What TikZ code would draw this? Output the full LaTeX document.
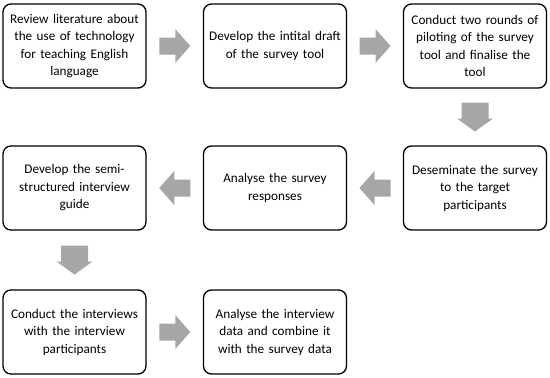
\documentclass[tikz,border=0pt]{standalone}
\usepackage{fontspec}
\setmainfont{Carlito}
\usetikzlibrary{calc}
\definecolor{arrowgray}{HTML}{A6A6A6}
\tikzset{
  stepbox/.style={draw=black, line width=1.3pt, rounded corners=8pt,
    minimum width=143pt, minimum height=84pt, inner sep=0pt,
    align=center, text width=135pt, font=\fontsize{13.2}{17.5}\selectfont},
  harrow/.pic={\fill[arrowgray] (-15.5,-8.5) -- (0.5,-8.5) -- (0.5,-17) -- (15.5,0) -- (0.5,17) -- (0.5,8.5) -- (-15.5,8.5) -- cycle;},
  varrow/.pic={\fill[arrowgray] (-13.5,-14.5) -- (-13.5,1.5) -- (-18,1.5) -- (0,14.5) -- (18,1.5) -- (13.5,1.5) -- (13.5,-14.5) -- cycle;}
}
\begin{document}
\begin{tikzpicture}[x=1pt,y=-1pt]
\useasboundingbox (0,0) rectangle (550,378);
\node[stepbox] (b1) at (74.5,46) {Review literature about\\the use of technology\\for teaching English\\language};
\node[stepbox] (b2) at (275,46) {Develop the intital draft\\of the survey tool};
\node[stepbox] (b3) at (475,46) {Conduct two rounds of\\piloting of the survey\\tool and finalise the\\tool};
\node[stepbox] (b4) at (475,188) {Deseminate the survey\\to the target\\participants};
\node[stepbox] (b5) at (275,188) {Analyse the survey\\responses};
\node[stepbox] (b6) at (74.5,188) {Develop the semi-\\structured interview\\guide};
\node[stepbox] (b7) at (74.5,332) {Conduct the interviews\\with the interview\\participants};
\node[stepbox] (b8) at (275,332) {Analyse the interview\\data and combine it\\with the survey data};
\path ($(b1.east)!0.5!(b2.west)$) pic {harrow};
\path ($(b2.east)!0.5!(b3.west)$) pic {harrow};
\path ($(b3.south)!0.5!(b4.north)$) pic {varrow};
\path ($(b4.west)!0.5!(b5.east)$) pic[rotate=180] {harrow};
\path ($(b5.west)!0.5!(b6.east)$) pic[rotate=180] {harrow};
\path ($(b6.south)!0.5!(b7.north)$) pic {varrow};
\path ($(b7.east)!0.5!(b8.west)$) pic {harrow};
\end{tikzpicture}
\end{document}
